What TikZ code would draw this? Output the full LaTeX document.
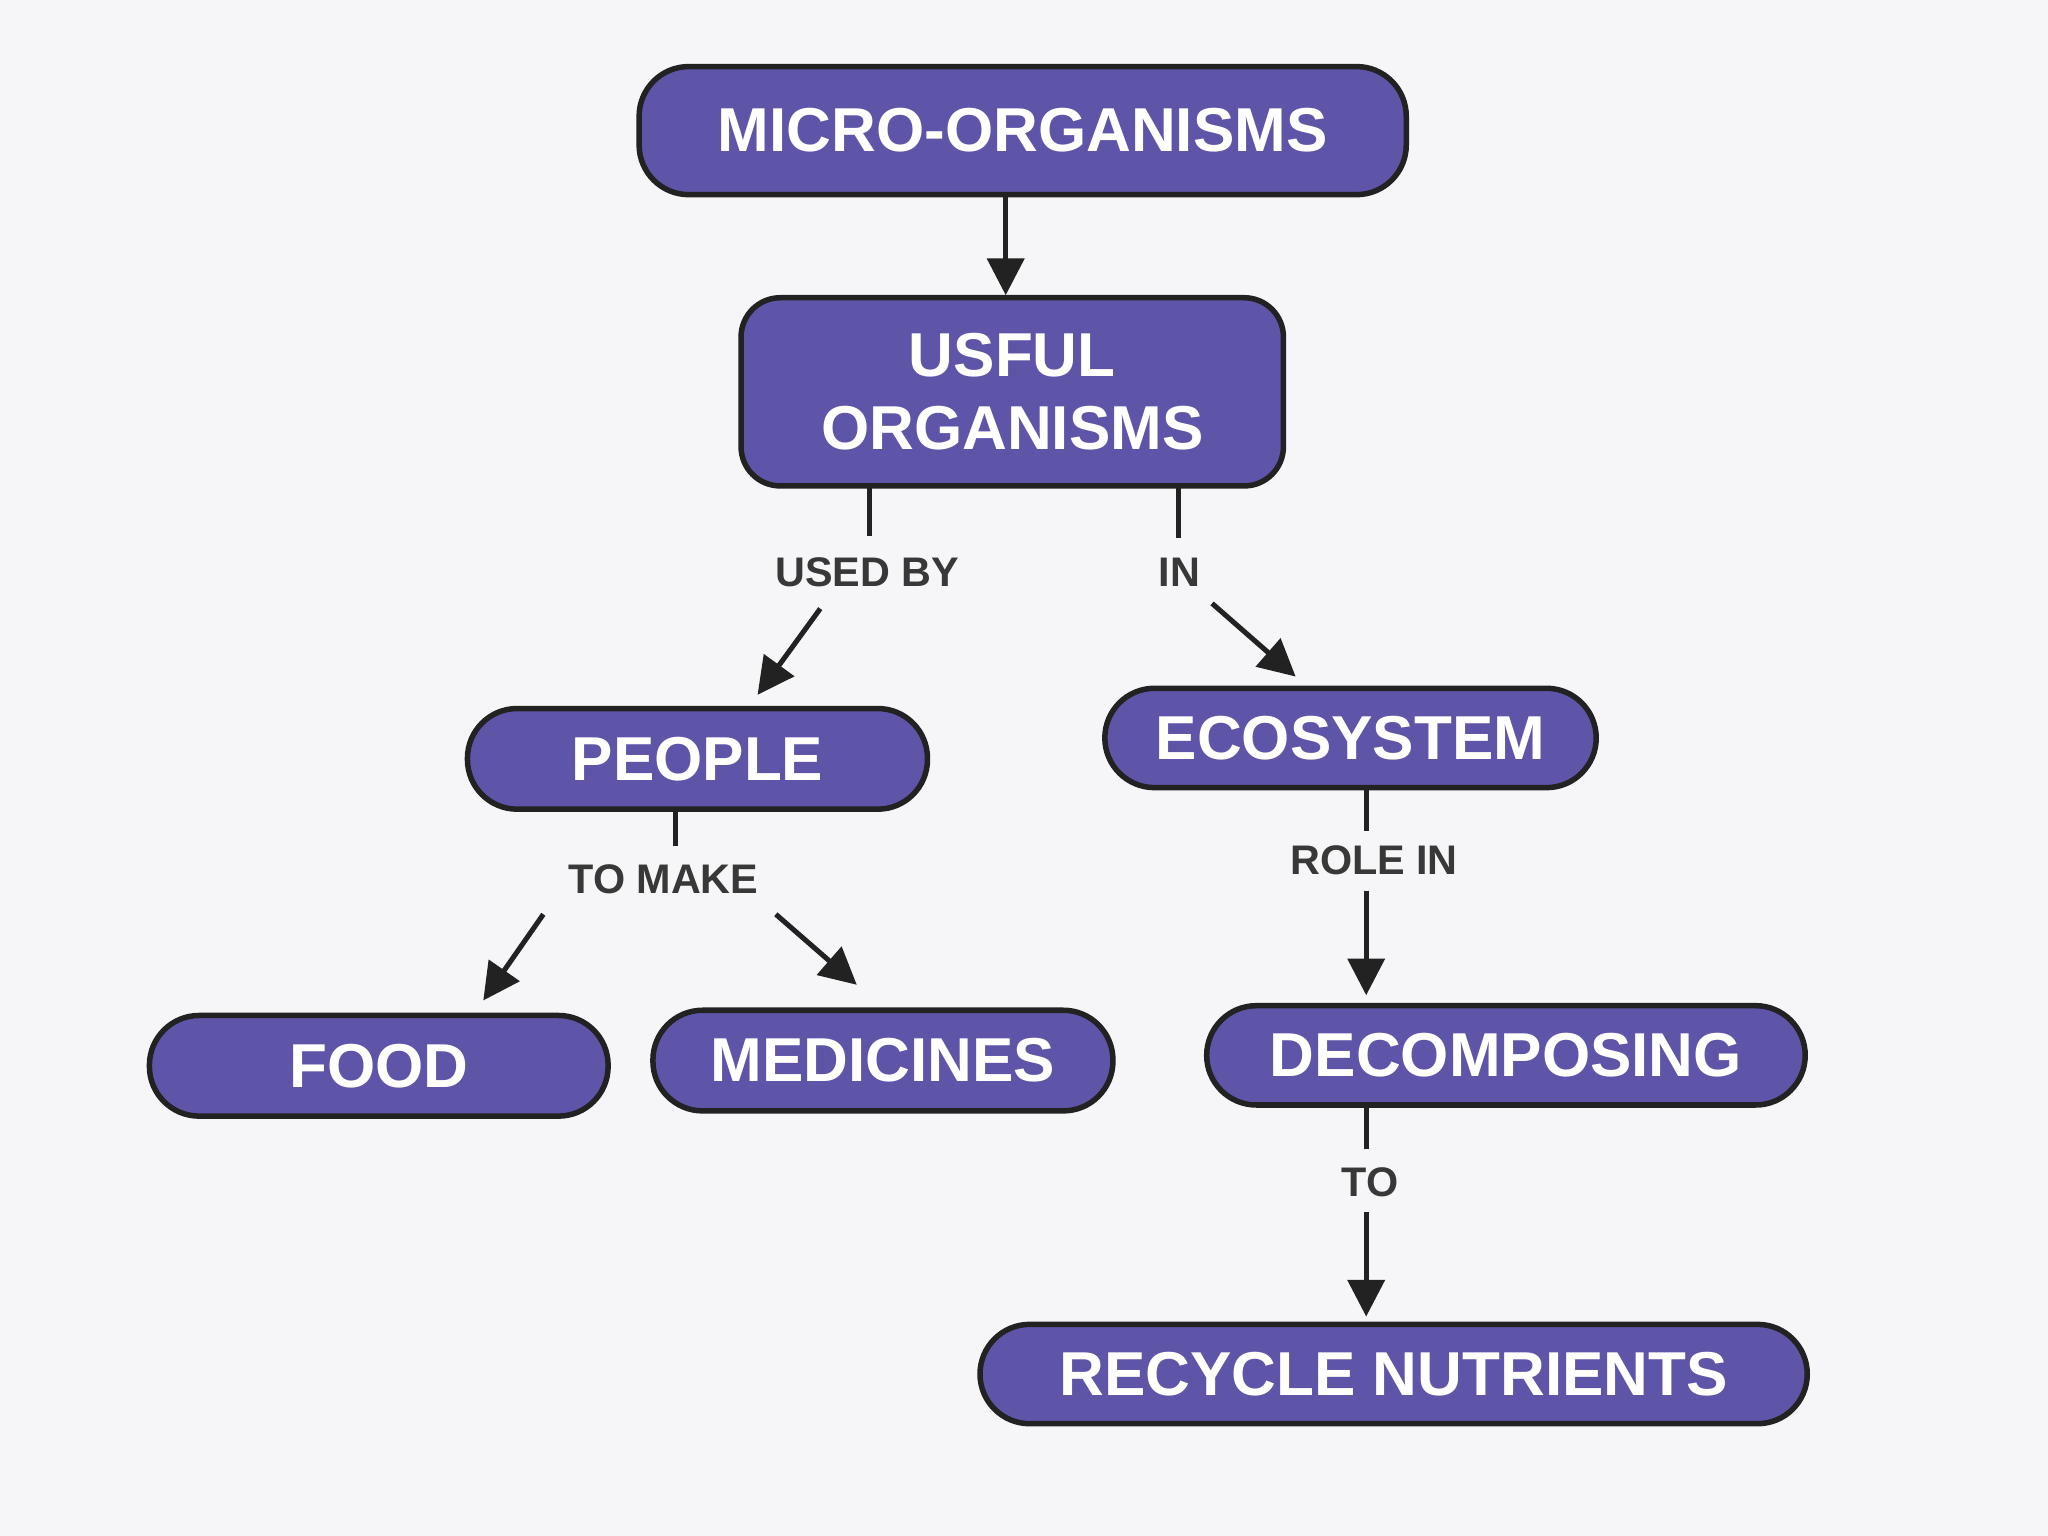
\documentclass[tikz,border=0pt]{standalone}
\usepackage{fontspec}
\setmainfont{Liberation Sans}
\usetikzlibrary{arrows.meta}
\definecolor{boxfill}{HTML}{5E55A8}
\definecolor{edge}{HTML}{222222}
\definecolor{bg}{HTML}{F6F6F8}
\begin{document}
\begin{tikzpicture}[x=0.01cm,y=-0.01cm,
  box/.style={draw=edge,line width=1.2pt,fill=boxfill,rounded corners=0.38cm,
    text=white,font=\fontsize{13.5}{16}\selectfont\bfseries,align=center,inner sep=0pt},
  lab/.style={text=edge!90,font=\fontsize{9}{11}\selectfont\bfseries,inner sep=1pt},
  conn/.style={draw=edge,line width=1.1pt},
  arr/.style={conn,-{Triangle[length=8pt,width=8pt]}}]
\fill[bg] (0,0) rectangle (1568,1176);
\useasboundingbox (0,0) rectangle (1568,1176);

\node[box,minimum width=5.87cm,minimum height=0.98cm] (micro) at (783,100) {MICRO-ORGANISMS};
\node[box,minimum width=4.15cm,minimum height=1.44cm,rounded corners=0.3cm] (usful) at (775,300) {USFUL\\ORGANISMS};
\node[box,minimum width=3.52cm,minimum height=0.77cm] (people) at (534,581) {PEOPLE};
\node[box,minimum width=3.76cm,minimum height=0.76cm] (eco) at (1034,565) {ECOSYSTEM};
\node[box,minimum width=3.51cm,minimum height=0.77cm] (food) at (290,816) {FOOD};
\node[box,minimum width=3.52cm,minimum height=0.77cm] (med) at (676,812) {MEDICINES};
\node[box,minimum width=4.58cm,minimum height=0.76cm] (decomp) at (1153,808) {DECOMPOSING};
\node[box,minimum width=6.33cm,minimum height=0.76cm] (recycle) at (1067,1052) {RECYCLE NUTRIENTS};

\node[lab] (usedby) at (664,438) {USED BY};
\node[lab] (in) at (903,438) {IN};
\node[lab] (tomake) at (508,673) {TO MAKE};
\node[lab] (rolein) at (1052,659) {ROLE IN};
\node[lab] (to) at (1049,905) {TO};

\coordinate (a1) at (770,150);
\coordinate (a2) at (770,226);
\coordinate (u1) at (666,372); \coordinate (u2) at (666,410);
\coordinate (u3) at (628,466); \coordinate (u4) at (580,532);
\coordinate (i1) at (902,372); \coordinate (i2) at (902,412);
\coordinate (i3) at (928,462); \coordinate (i4) at (992,518);
\coordinate (t1) at (517,621); \coordinate (t2) at (517,648);
\coordinate (t3) at (416,700); \coordinate (t4) at (370,766);
\coordinate (t5) at (594,700); \coordinate (t6) at (656,754);
\coordinate (r1) at (1046,604); \coordinate (r2) at (1046,636);
\coordinate (r3) at (1046,682); \coordinate (r4) at (1046,762);
\coordinate (o1) at (1046,847); \coordinate (o2) at (1046,880);
\coordinate (o3) at (1046,928); \coordinate (o4) at (1046,1008);

\draw[arr] (a1) -- (a2);
\draw[conn] (u1) -- (u2); \draw[arr] (u3) -- (u4);
\draw[conn] (i1) -- (i2); \draw[arr] (i3) -- (i4);
\draw[conn] (t1) -- (t2); \draw[arr] (t3) -- (t4); \draw[arr] (t5) -- (t6);
\draw[conn] (r1) -- (r2); \draw[arr] (r3) -- (r4);
\draw[conn] (o1) -- (o2); \draw[arr] (o3) -- (o4);
\end{tikzpicture}
\end{document}
